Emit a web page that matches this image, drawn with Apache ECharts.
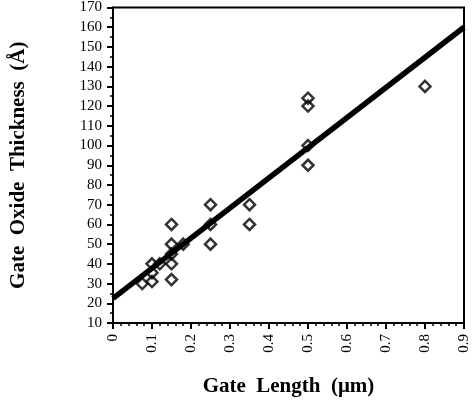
<!DOCTYPE html>
<html>
<head>
<meta charset="utf-8">
<script src="https://cdn.jsdelivr.net/npm/echarts@6/dist/echarts.min.js"></script>
<style>
  html, body { margin: 0; padding: 0; background: #fff; }
  #chart { width: 474px; height: 402px; }
</style>
</head>
<body>
<div id="chart"></div>
<script>
// measured points: gate length (um) vs gate oxide thickness (A)
var gateLength = [0.075, 0.1, 0.1, 0.1, 0.12, 0.15, 0.15, 0.15, 0.15, 0.15, 0.18, 0.25, 0.25, 0.25, 0.35, 0.35, 0.5, 0.5, 0.5, 0.5, 0.8];
var oxideThickness = [30, 31, 35.5, 40, 40, 32, 40, 45, 50, 60, 50, 50, 60, 70, 60, 70, 90, 100, 120, 124, 130];
// fitted trend line end points
var fitX = [0, 0.9];
var fitY = [22.5, 160];

var points = gateLength.map(function (x, i) { return [x, oxideThickness[i]]; });
var fit = fitX.map(function (x, i) { return [x, fitY[i]]; });

var font = 'Liberation Serif, Times New Roman, serif';
var chart = echarts.init(document.getElementById('chart'));
var option = {
  backgroundColor: '#fff',
  animation: false,
  grid: {
    left: 109, right: 10, top: 7, bottom: 79,
    show: true, borderColor: '#000', borderWidth: 2, backgroundColor: 'transparent'
  },
  xAxis: {
    type: 'value',
    min: 0, max: 0.9, interval: 0.1,
    name: 'Gate  Length  (\u03bcm)',
    nameLocation: 'middle',
    nameGap: 53,
    nameTextStyle: { fontFamily: font, fontSize: 21, fontWeight: 'bold', color: '#000' },
    axisLine: { lineStyle: { color: '#000', width: 2 } },
    axisTick: { length: 6, lineStyle: { color: '#000', width: 2 } },
    minorTick: { show: true, splitNumber: 5, length: 3, lineStyle: { color: '#000', width: 1.5 } },
    splitLine: { show: false },
    axisLabel: { rotate: 90, margin: 11, fontFamily: font, fontSize: 15, color: '#000' }
  },
  yAxis: {
    type: 'value',
    min: 10, max: 170, interval: 10,
    name: 'Gate  Oxide  Thickness  (\u00c5)',
    nameLocation: 'middle',
    nameGap: 84,
    nameTextStyle: { fontFamily: font, fontSize: 21, fontWeight: 'bold', color: '#000' },
    axisLine: { lineStyle: { color: '#000', width: 2 } },
    axisTick: { length: 6, lineStyle: { color: '#000', width: 2 } },
    minorTick: { show: true, splitNumber: 2, length: 3, lineStyle: { color: '#000', width: 1.5 } },
    splitLine: { show: false },
    axisLabel: { margin: 11, fontFamily: font, fontSize: 15, color: '#000' }
  },
  series: [
    {
      type: 'line',
      data: fit,
      symbol: 'none',
      lineStyle: { color: '#000', width: 5.5 },
      z: 2
    },
    {
      type: 'scatter',
      data: points,
      symbol: 'diamond',
      symbolSize: [11, 11],
      itemStyle: { color: 'transparent', borderColor: '#000', borderWidth: 2.5 },
      z: 3
    }
  ]
};
chart.setOption(option);
</script>
</body>
</html>
